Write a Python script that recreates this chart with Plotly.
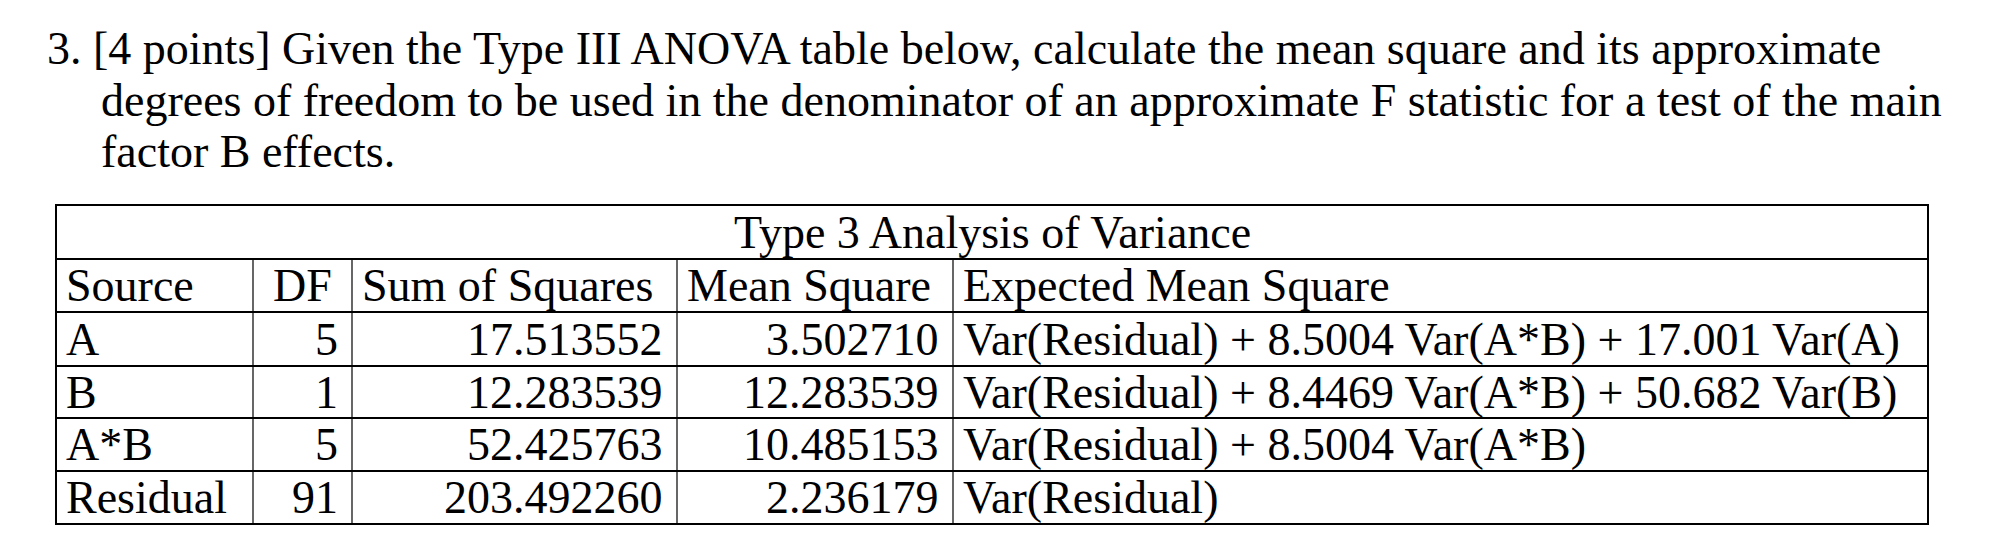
import plotly.graph_objects as go

title = "Type 3 Analysis of Variance"
headers = ["Source", "DF", "Sum of Squares", "Mean Square", "Expected Mean Square"]
sources = ["A", "B", "A*B", "Residual"]
df = ["5", "1", "5", "91"]
ss = ["17.513552", "12.283539", "52.425763", "203.492260"]
ms = ["3.502710", "12.283539", "10.485153", "2.236179"]
ems = ["Var(Residual) + 8.5004 Var(A*B) + 17.001 Var(A)",
       "Var(Residual) + 8.4469 Var(A*B) + 50.682 Var(B)",
       "Var(Residual) + 8.5004 Var(A*B)",
       "Var(Residual)"]
question = ["3. [4 points] Given the Type III ANOVA table below, calculate the mean square and its approximate",
            "degrees of freedom to be used in the denominator of an approximate F statistic for a test of the main",
            "factor B effects."]

W, H = 2004, 544
FONT = dict(family="Liberation Serif", size=46, color="black")
cols = [48, 245, 344, 669, 945, 1920]
rows = [197, 251, 304, 358, 410, 463, 516]

fig = go.Figure()
fig.add_trace(go.Scatter(x=[0, W], y=[0, H], mode="markers", marker=dict(opacity=0), hoverinfo="skip"))
ann = []
qx = [37, 91, 91]
qy = [40, 92, 143]
for i, line in enumerate(question):
    ann.append(dict(x=qx[i], y=qy[i], text=line, xanchor="left", yanchor="middle", showarrow=False, font=FONT))
ann.append(dict(x=(cols[0]+cols[-1])/2, y=(rows[0]+rows[1])/2, text=title, xanchor="center", yanchor="middle", showarrow=False, font=FONT))
table = [headers] + [[sources[i], df[i], ss[i], ms[i], ems[i]] for i in range(4)]
for r, row in enumerate(table):
    yc = (rows[r+1]+rows[r+2])/2
    for c, val in enumerate(row):
        right = (r > 0 and c in (1, 2, 3))
        if r == 0 and c == 1:
            x, xa = (cols[1]+cols[2])/2, "center"
        elif right:
            x, xa = cols[c+1]-12, "right"
        else:
            x, xa = cols[c]+8, "left"
        ann.append(dict(x=x, y=yc, text=val, xanchor=xa, yanchor="middle", showarrow=False, font=FONT))
shapes = [dict(type="rect", x0=cols[0], x1=cols[-1], y0=rows[0], y1=rows[-1], line=dict(color="black", width=2))]
for y in rows[1:-1]:
    shapes.append(dict(type="line", x0=cols[0], x1=cols[-1], y0=y, y1=y, line=dict(color="black", width=2)))
for x in cols[1:-1]:
    shapes.append(dict(type="line", x0=x, x1=x, y0=rows[1], y1=rows[-1], line=dict(color="black", width=1.2)))
fig.update_layout(width=W, height=H, margin=dict(l=0, r=0, t=0, b=0), plot_bgcolor="white", paper_bgcolor="white",
                  xaxis=dict(range=[0, W], visible=False), yaxis=dict(range=[H, 0], visible=False),
                  showlegend=False, annotations=ann, shapes=shapes)
fig.write_html("out.html")
